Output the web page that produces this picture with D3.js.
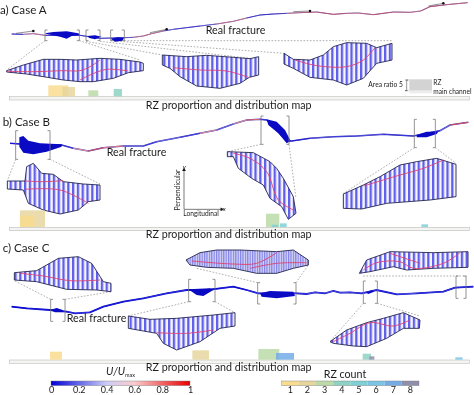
<!DOCTYPE html>
<html>
<head>
<meta charset="utf-8">
<script src="https://cdn.jsdelivr.net/npm/d3@7"></script>
<style>
    html, body { margin: 0; padding: 0; background: #fff; overflow: hidden; }
    svg { filter: blur(0.3px); }
    text { font-family: Lato, "Open Sans", sans-serif; fill: #1c1c1c; }
    .domain { display: none; }
</style>
</head>
<body>
<svg width="474" height="395"></svg>
<script>
// all geometry is in trace units at 3x (x 0-1422)
// fracture: [longitudinal, perpendicular, U/Umax]
const fractureA = [[35,102,.05],[70,103,.7],[100,101,.75],[135,106,.05],[240,106,.05],[300,115,.1],[375,113,.2],[400,112,.75],[430,108,.8],[455,101,.75],[490,93,.2],[520,88,.1],[560,83,.08],[600,78,.2],[650,72,.75],[700,64,.75],[740,54,.1],[780,45,.05],[820,42,.1],[860,40,.75],[900,38,.8],[950,36,.85],[1000,43,.85],[1040,40,.75],[1075,39,.8],[1120,44,.85],[1180,36,.8],[1230,37,.75],[1262,33,.85],[1290,20,.85],[1340,14,.8],[1403,8,.85]];
const fractureB = [[30,100,.03],[60,102,.05],[120,105,.05],[185,105,.1],[220,115,.7],[265,123,.85],[310,113,.75],[370,108,.2],[430,108,.12],[470,95,.2],[540,82,.12],[600,70,.7],[650,60,.2],[700,42,.7],[740,30,.8],[780,28,.1],[800,30,.05],[860,92,.05],[875,93,.05],[930,85,.15],[1000,80,.12],[1070,78,.15],[1150,73,.1],[1240,78,.12],[1280,70,.05],[1320,62,.2],[1350,45,.85],[1405,37,.9]];
const fractureC = [[35,200,.02],[80,205,.05],[150,210,.05],[200,215,.08],[225,220,.1],[270,217,.05],[310,200,.05],[370,185,.06],[430,175,.08],[500,160,.08],[560,150,.03],[620,150,.03],[660,145,.05],[700,140,.03],[740,150,.08],[775,160,.1],[890,160,.1],[920,162,.15],[945,157,.12],[975,160,.15],[1000,153,.12],[1020,158,.15],[1050,157,.12],[1085,160,.1],[1130,150,.08],[1190,163,.15],[1250,160,.1],[1330,155,.1],[1365,143,.08],[1420,140,.2]];

// regions of very wide aperture on the fracture
const wideA = [
    [[135,100],[160,96],[200,94],[235,100],[240,105],[215,108],[200,116],[180,110],[140,102]],
    [[262,108],[285,106],[305,110],[285,118],[268,114]],
    [[332,116],[352,112],[372,113],[368,122],[345,125]]
];
const wideB = [
    [[58,82],[70,78],[85,92],[120,100],[185,103],[185,110],[140,125],[100,133],[70,128],[58,110]],
    [[800,28],[830,35],[855,60],[872,93],[860,100],[835,70],[805,45]],
    [[1250,75],[1280,65],[1315,65],[1310,72],[1280,82],[1250,82]]
];
const wideC = [
    [[150,210],[170,204],[188,210],[190,217],[165,217]],
    [[565,148],[630,145],[640,150],[610,168],[590,165]],
    [[780,160],[810,153],[880,155],[885,168],[830,175],[785,170]],
    [[1098,158],[1118,150],[1122,155],[1105,162]]
];

// brackets: [left, right, top, bottom]
const bracketsA = [[135,238,90,122],[258,300,90,122],[332,373,90,122]];
const bracketsB = [[47,150,62,148],[783,867,18,103],[1243,1306,28,113]];
const bracketsC = [[152,195,178,244],[566,645,118,185],[773,888,128,192],[1090,1132,123,190],[1368,1398,108,175]];

// dashed leaders: [x1, y1, x2, y2]
const leadersA = [[135,122,20,210],[238,122,420,180],[258,124,487,165],[300,124,750,175],[332,122,852,160],[373,122,1176,122]];
const leadersB = [[47,148,22,212],[150,148,300,222],[783,103,682,125],[867,103,888,265],[1243,113,1030,250],[1306,113,1368,160]];
const leadersC = [[152,178,43,122],[195,178,333,155],[566,185,385,228],[645,185,705,218],[773,128,590,85],[888,128,925,75],[1090,108,1400,108],[1090,190,990,305],[1132,190,1260,228]];

// zoomed regions: outline + main channel curves
const zoomA1 = [[20,212],[70,195],[130,178],[180,178],[230,180],[300,175],[360,178],[420,186],[430,190],[430,212],[385,218],[340,235],[280,245],[240,245],[190,240],[130,230],[80,222],[20,216]];
const channelA1 = [[[20,214],[100,215],[190,212],[240,212],[270,200],[300,180]],[[240,240],[270,225],[320,208],[385,213]]];
const zoomA2 = [[487,165],[560,170],[620,166],[700,172],[750,176],[776,170],[776,225],[748,232],[720,250],[660,265],[590,258],[540,230],[510,205],[487,195]];
const channelA2 = [[[520,203],[600,210],[680,213],[745,232]]];
const zoomA3 = [[852,160],[880,178],[930,180],[970,165],[1000,140],[1040,128],[1100,130],[1130,143],[1176,130],[1176,180],[1130,190],[1090,235],[1040,255],[1000,240],[930,232],[880,205],[852,192]];
const channelA3 = [[[885,180],[950,197],[1040,200],[1090,180],[1125,143]]];

const zoomB1 = [[22,213],[75,213],[80,170],[100,160],[125,190],[160,193],[190,215],[250,222],[300,225],[300,270],[265,275],[235,300],[180,312],[130,300],[85,280],[70,240],[22,237]];
const channelB1 = [[[75,213],[130,215],[190,212]],[[75,238],[180,240],[265,280]]];
const zoomB2 = [[682,125],[760,128],[810,155],[830,175],[850,205],[880,260],[888,310],[865,328],[845,290],[810,265],[790,225],[755,205],[715,175],[700,140],[682,140]];
const channelB2 = [[[700,130],[750,145],[800,185],[835,270],[880,300]]];
const zoomB3 = [[1030,252],[1090,225],[1140,200],[1200,165],[1250,155],[1310,145],[1368,163],[1368,260],[1290,270],[1160,280],[1085,297],[1030,295]];
const channelB3 = [[[1090,228],[1200,195],[1270,175],[1330,150]]];

const zoomC1 = [[43,98],[110,92],[175,55],[235,50],[275,70],[310,125],[333,130],[333,155],[290,150],[200,148],[110,125],[43,120]];
const channelC1 = [[[60,100],[130,108],[210,122],[300,120]]];
const zoomC2 = [[558,60],[600,38],[650,30],[720,30],[830,35],[880,30],[925,60],[925,75],[880,85],[830,100],[770,100],[700,85],[620,82],[570,75]];
const channelC2 = [[[575,63],[700,72],[770,70],[830,38]],[[750,85],[830,70],[920,68]]];
const zoomC3 = [[1078,100],[1100,60],[1170,35],[1300,38],[1404,35],[1404,82],[1300,85],[1220,90],[1180,80],[1110,95]];
const channelC3 = [[[1090,90],[1130,68],[1200,65],[1240,85],[1330,70],[1380,38]],[[1170,40],[1230,60],[1260,70]]];
const zoomC4 = [[385,228],[450,238],[530,235],[640,225],[705,218],[705,258],[660,265],[600,305],[530,330],[490,310],[470,280],[385,265]];
const channelC4 = [[[470,278],[560,280],[640,270]]];
const zoomC5 = [[990,305],[1040,270],[1100,248],[1150,235],[1210,218],[1260,240],[1258,265],[1210,265],[1160,295],[1100,320],[1060,318],[1000,310]];
const channelC5 = [[[1000,305],[1050,280],[1110,248],[1180,258],[1230,240]]];

// RZ proportion bars: [start, end, area, RZ count]
const barsA = [[145,205,33,1],[187,225,28,2],[265,295,18,3],[341,366,22,4]];
const barsB = [[60,135,50,2],[60,103,34,1],[798,838,40,3],[840,860,11,5],[815,835,7,5],[1264,1284,8,5]];
const barsC = [[150,186,24,1],[577,627,28,2],[775,838,32,3],[828,882,20,7],[1088,1113,18,4],[1108,1123,10,8],[1366,1388,7,6]];

const countLabels = [1,2,3,4,5,6,7,8];
const countColors = ['#f9dc8e','#e6d69e','#bcdba8','#8ed2c3','#7fd0d6','#7cc4e4','#74ade6','#8f8fab'];
const ratioTicks = [0,0.2,0.4,0.6,0.8,1];

const svg = d3.select('svg');

const xScale = d3.scaleLinear().domain([0, 1422]).range([0, 474]);
const lenScale = d3.scaleLinear().domain([0, 330]).range([0, 110]);
const uColor = d3.scaleLinear().domain([0, 0.5, 1]).range(['#0000d8', '#ffffff', '#e80000']);
const countColor = d3.scaleOrdinal().domain(countLabels).range(countColors);

const defs = svg.append('defs');
const stripes = (id, size, w, blue, pale) => {
    const p = defs.append('pattern').attr('id', id)
        .attr('patternUnits', 'userSpaceOnUse')
        .attr('width', size).attr('height', 10);
    p.append('rect').attr('width', size).attr('height', 10).attr('fill', pale);
    p.append('rect').attr('width', w).attr('height', 10).attr('fill', blue);
};
stripes('wide', 4.8, 2.3, '#5f5fea', '#f6f5ff');
stripes('fine', 2.4, 1.2, '#8383e6', '#d6d6f8');

const outline = d3.line().x(d => xScale(d[0])).y(d => lenScale(d[1])).curve(d3.curveLinearClosed);
const curve = d3.line().x(d => xScale(d[0])).y(d => lenScale(d[1])).curve(d3.curveCatmullRom.alpha(0.5));
const straight = d3.line().x(d => xScale(d[0])).y(d => lenScale(d[1]));

const drawPanel = (o) => {
    const g = svg.append('g').attr('transform', `translate(0, ${o.top})`);

    g.selectAll('.leader').data(o.leaders).join('line')
        .attr('class', 'leader')
        .attr('x1', d => xScale(d[0])).attr('y1', d => lenScale(d[1]))
        .attr('x2', d => xScale(d[2])).attr('y2', d => lenScale(d[3]))
        .attr('stroke', '#777').attr('stroke-width', 0.6).attr('stroke-dasharray', '1.6 1.6');

    // fracture: dark walls under a centre line coloured by velocity
    g.append('path').attr('d', straight(o.fracture))
        .attr('fill', 'none').attr('stroke', o.wallColor).attr('stroke-width', o.lineWidth);
    g.selectAll('.seg').data(d3.pairs(o.fracture)).join('path')
        .attr('class', 'seg')
        .attr('d', d => straight(d))
        .attr('fill', 'none')
        .attr('stroke', d => uColor(d[0][2]))
        .attr('stroke-width', o.lineWidth * 0.6);

    g.selectAll('.wide').data(o.wide).join('path')
        .attr('class', 'wide')
        .attr('d', outline)
        .attr('fill', '#0a0ac4');

    // each bracket: two vertical bars with short caps facing inward
    o.brackets.forEach(b => {
        const cap = 2.5;
        const path = d3.path();
        path.moveTo(xScale(b[0]) + cap, lenScale(b[2]));
        path.lineTo(xScale(b[0]), lenScale(b[2]));
        path.lineTo(xScale(b[0]), lenScale(b[3]));
        path.lineTo(xScale(b[0]) + cap, lenScale(b[3]));
        path.moveTo(xScale(b[1]) - cap, lenScale(b[2]));
        path.lineTo(xScale(b[1]), lenScale(b[2]));
        path.lineTo(xScale(b[1]), lenScale(b[3]));
        path.lineTo(xScale(b[1]) - cap, lenScale(b[3]));
        g.append('path').attr('d', path.toString())
            .attr('fill', 'none').attr('stroke', '#777').attr('stroke-width', 0.8);
    });

    o.zooms.forEach(z => {
        g.append('path').attr('d', outline(z.shape))
            .attr('fill', `url(#${z.fine ? 'fine' : 'wide'})`)
            .attr('stroke', '#25254f').attr('stroke-width', 0.9);
        g.selectAll(null).data(z.channels).join('path')
            .attr('d', curve)
            .attr('fill', 'none')
            .attr('stroke', '#e0406e').attr('stroke-width', 0.9);
    });

    // strip + bars
    g.append('rect')
        .attr('x', xScale(28)).attr('y', lenScale(o.strip))
        .attr('width', xScale(1408) - xScale(28)).attr('height', lenScale(10))
        .attr('fill', '#f4f4f2').attr('stroke', '#bdbdb8').attr('stroke-width', 0.6);
    g.selectAll('.bar').data(o.bars).join('rect')
        .attr('class', 'bar')
        .attr('x', d => xScale(d[0]))
        .attr('y', d => lenScale(o.strip - 1 - d[2]))
        .attr('width', d => xScale(d[1]) - xScale(d[0]))
        .attr('height', d => lenScale(d[2]))
        .attr('fill', d => countColor(d[3]))
        .attr('fill-opacity', 0.85);

    g.append('text').attr('x', xScale(o.labelX)).attr('y', lenScale(o.labelY))
        .attr('font-size', 11.6).text(o.label);
    g.append('text').attr('x', xScale(o.realX)).attr('y', lenScale(o.realY))
        .attr('font-size', 10.7).text('Real fracture');
    g.append('text').attr('x', xScale(686)).attr('y', lenScale(o.mapY))
        .attr('font-size', 10.7).attr('text-anchor', 'middle')
        .text('RZ proportion and distribution map');
    return g;
};

const gA = drawPanel({
    top: 0, label: 'a) Case A', labelX: 0, labelY: 42, realX: 617, realY: 103, mapY: 328,
    fracture: fractureA, lineWidth: 1, wallColor: '#5a4aa8', wide: wideA, brackets: bracketsA, leaders: leadersA, strip: 290, bars: barsA,
    zooms: [
        { shape: zoomA1, channels: channelA1 },
        { shape: zoomA2, channels: channelA2 },
        { shape: zoomA3, channels: channelA3 }
    ]
});
const gB = drawPanel({
    top: 110, label: 'b) Case B', labelX: 8, labelY: 48, realX: 320, realY: 138, mapY: 385,
    fracture: fractureB, lineWidth: 1.5, wallColor: '#4a42b8', wide: wideB, brackets: bracketsB, leaders: leadersB, strip: 352, bars: barsB,
    zooms: [
        { shape: zoomB1, channels: channelB1 },
        { shape: zoomB2, channels: channelB2 },
        { shape: zoomB3, channels: channelB3 }
    ]
});
const gC = drawPanel({
    top: 240, label: 'c) Case C', labelX: 8, labelY: 35, realX: 200, realY: 245, mapY: 394,
    fracture: fractureC, lineWidth: 1.8, wallColor: '#1414c4', wide: wideC, brackets: bracketsC, leaders: leadersC, strip: 360, bars: barsC,
    zooms: [
        { shape: zoomC1, channels: channelC1 },
        { shape: zoomC2, channels: channelC2, fine: true },
        { shape: zoomC3, channels: channelC3 },
        { shape: zoomC4, channels: channelC4 },
        { shape: zoomC5, channels: channelC5 }
    ]
});

// flow direction arrows in case A
const arrowsA = [[48,100,100,93],[450,98,500,88],[880,35,930,33],[1285,18,1330,10]];
gA.selectAll('.flow').data(arrowsA).join('line')
    .attr('class', 'flow')
    .attr('x1', d => xScale(d[0])).attr('y1', d => lenScale(d[1]))
    .attr('x2', d => xScale(d[2])).attr('y2', d => lenScale(d[3]))
    .attr('stroke', '#444').attr('stroke-width', 0.6);
gA.selectAll('.flowHead').data(arrowsA).join('path')
    .attr('class', 'flowHead')
    .attr('d', d3.symbol(d3.symbolCircle, 5))
    .attr('transform', d => `translate(${xScale(d[2])}, ${lenScale(d[3])})`)
    .attr('fill', '#111');

// area ratio key
gA.append('rect').attr('x', xScale(1228)).attr('y', lenScale(238))
    .attr('width', xScale(68)).attr('height', lenScale(34)).attr('fill', '#d3d3d3');
gA.append('rect').attr('x', xScale(1228)).attr('y', lenScale(272))
    .attr('width', xScale(68)).attr('height', lenScale(8)).attr('fill', '#ececec');
gA.append('path')
    .attr('d', d3.line()([[xScale(1215), lenScale(240)], [xScale(1225), lenScale(240)], [xScale(1220), lenScale(240)],
        [xScale(1220), lenScale(272)], [xScale(1215), lenScale(272)], [xScale(1225), lenScale(272)]]))
    .attr('fill', 'none').attr('stroke', '#333').attr('stroke-width', 0.5);
gA.append('text').attr('x', xScale(1105)).attr('y', lenScale(261)).attr('font-size', 6.7).text('Area ratio 5');
gA.append('text').attr('x', xScale(1300)).attr('y', lenScale(255)).attr('font-size', 6.6).text('RZ');
gA.append('text').attr('x', xScale(1300)).attr('y', lenScale(282)).attr('font-size', 6.6).text('main channel');

// coordinate key in case B
const keyX = d3.scaleLinear().domain([0, 1]).range([xScale(552), xScale(665)]);
const keyY = d3.scaleLinear().domain([0, 1]).range([lenScale(298), lenScale(180)]);
gB.append('path').attr('d', d3.line()([[keyX(0), keyY(1)], [keyX(0), keyY(0)], [keyX(1), keyY(0)]]))
    .attr('fill', 'none').attr('stroke', '#222').attr('stroke-width', 0.6);
gB.append('path').attr('d', d3.symbol(d3.symbolTriangle, 6))
    .attr('transform', `translate(${keyX(0)}, ${keyY(1)})`).attr('fill', '#111');
gB.append('path').attr('d', d3.symbol(d3.symbolTriangle, 6))
    .attr('transform', `translate(${keyX(1)}, ${keyY(0)}) rotate(90)`).attr('fill', '#111');
gB.append('text').attr('font-size', 6.8).attr('text-anchor', 'middle')
    .attr('transform', `translate(${xScale(541)}, ${lenScale(240)}) rotate(-90)`).text('Perpendicular');
gB.append('text').attr('font-size', 6.6).attr('x', xScale(550)).attr('y', lenScale(318)).text('Longitudinal');
gB.append('text').attr('font-size', 6.5).attr('font-style', 'italic').attr('x', xScale(548)).attr('y', lenScale(177)).text('y');
gB.append('text').attr('font-size', 6.5).attr('font-style', 'italic').attr('x', xScale(668)).attr('y', lenScale(304)).text('x');

// colour bars
const ratioScale = d3.scaleLinear().domain([0, 1]).range([51, 190]);
const ratioGrad = defs.append('linearGradient').attr('id', 'ratio');
ratioGrad.selectAll('stop').data(ratioTicks).join('stop')
    .attr('offset', d => d)
    .attr('stop-color', d => uColor(d));
svg.append('rect').attr('x', ratioScale(0)).attr('y', 381)
    .attr('width', ratioScale(1) - ratioScale(0)).attr('height', 4.6)
    .attr('fill', 'url(#ratio)').attr('stroke', '#777').attr('stroke-width', 0.4);
svg.append('g').attr('transform', 'translate(0, 386)')
    .call(d3.axisBottom(ratioScale).tickValues(ratioTicks).tickFormat(d3.format('~g')).tickSize(0).tickPadding(0.6))
    .call(a => a.selectAll('text').attr('font-size', 9).attr('font-family', 'Lato'));
const uLabel = svg.append('text').attr('x', 106).attr('y', 375).attr('font-size', 10.7).attr('font-style', 'italic');
uLabel.append('tspan').text('U/U');
uLabel.append('tspan').attr('font-size', 5.5).attr('font-style', 'normal').attr('dy', 2).text('max');

const countScale = d3.scaleBand().domain(countLabels).range([281.7, 419]);
svg.append('g').selectAll('rect').data(countLabels).join('rect')
    .attr('x', d => countScale(d)).attr('y', 381)
    .attr('width', countScale.bandwidth()).attr('height', 4.6)
    .attr('fill', d => countColor(d));
svg.append('rect').attr('x', 281.7).attr('y', 381).attr('width', 137.3).attr('height', 4.6)
    .attr('fill', 'none').attr('stroke', '#777').attr('stroke-width', 0.4);
svg.append('g').attr('transform', 'translate(0, 386)')
    .call(d3.axisBottom(countScale).tickSize(0).tickPadding(0.6))
    .call(a => a.selectAll('text').attr('font-size', 9).attr('font-family', 'Lato'));
svg.append('text').attr('x', 345).attr('y', 378).attr('font-size', 10.7).attr('text-anchor', 'middle').text('RZ count');
</script>
</body>
</html>
